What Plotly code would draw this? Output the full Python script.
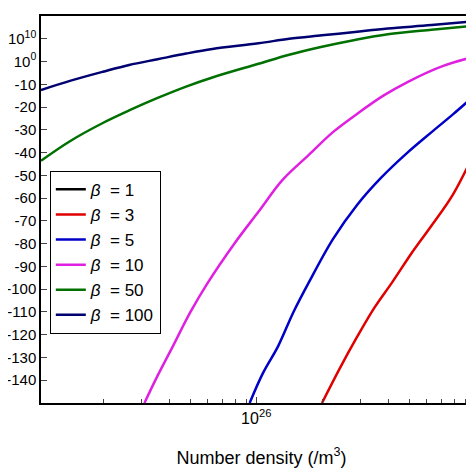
import plotly.graph_objects as go

# log10 of number density, and exponent of y value
b1_x = [26.985, 27.03]
b1_y = [-150, -135]
b3_x = [26.30, 26.38, 26.46, 26.54, 26.62, 26.71, 26.80, 26.90, 27.03]
b3_y = [-150, -135, -121, -108, -97, -84, -72, -58, -33]
b5_x = [25.97, 26.03, 26.10, 26.17, 26.24, 26.35, 26.46, 26.57, 26.69, 26.80, 26.90, 27.03]
b5_y = [-150, -137, -125, -110, -97, -78, -63, -51, -40, -31, -23, -12]
b10_x = [25.49, 25.55, 25.62, 25.70, 25.78, 25.90, 26.01, 26.12, 26.24, 26.35, 26.46, 26.58, 26.69, 26.85, 27.03]
b10_y = [-150, -138, -125, -110, -97, -80, -66, -52, -41, -31, -23, -15, -9, -2, 3]
b50_x = [25.018, 25.15, 25.30, 25.42, 25.55, 25.68, 25.80, 26.01, 26.15, 26.30, 26.45, 26.60, 26.80, 27.03]
b50_y = [-43.6, -35, -27, -21.5, -16, -11, -7, -1, 3, 6.5, 9.5, 12, 14, 16]
b100_x = [25.018, 25.15, 25.30, 25.42, 25.55, 25.68, 25.80, 26.01, 26.15, 26.30, 26.45, 26.60, 26.80, 27.03]
b100_y = [-12.5, -8.5, -4.5, -1.5, 1, 3.5, 5.5, 8, 10, 11.5, 13, 14.5, 16, 18]

series = [("1", b1_x, b1_y, "black"), ("3", b3_x, b3_y, "#e00000"),
          ("5", b5_x, b5_y, "#0000c8"), ("10", b10_x, b10_y, "#e020e0"),
          ("50", b50_x, b50_y, "#007000"), ("100", b100_x, b100_y, "#000070")]

fig = go.Figure()
for lab, xs, ys, col in series:
    fig.add_trace(go.Scatter(x=[10 ** v for v in xs], y=ys, mode="lines",
                             line=dict(color=col, width=2.5, shape="spline", smoothing=1.0),
                             name="<i>β</i>  = " + lab))

yt = list(range(-140, 30, 10))
fig.update_layout(
    width=474, height=474, plot_bgcolor="white", paper_bgcolor="white",
    margin=dict(l=33, r=0, t=8, b=79),
    font=dict(family="Liberation Sans, Arial", color="black", size=13),
    legend=dict(x=0.02, y=0.6, xanchor="left", yanchor="top", bordercolor="black", borderwidth=1,
                font=dict(size=17), bgcolor="white", tracegroupgap=0),
    xaxis=dict(type="log", range=[25.018, 27.03], tickvals=[1e26, 1e27], ticktext=["10<sup>26</sup>", "10<sup>27</sup>"],
               ticks="inside", ticklen=6, showgrid=False, showline=True, linecolor="black", linewidth=1.5, mirror=True,
               minor=dict(ticks="inside", ticklen=4, showgrid=False, dtick="D1"), tickfont=dict(size=16),
               automargin=False,
               title=dict(text="Number density (/m<sup>3</sup>)", font=dict(size=18), standoff=25)),
    yaxis=dict(range=[-150, 20], tickvals=yt, ticktext=["10<sup>%d</sup>" % v if v >= 0 else "%d" % v for v in yt],
               ticks="inside", ticklen=6, showgrid=False, showline=True, linecolor="black", linewidth=1.5, mirror=True,
               zeroline=False, tickfont=dict(size=15), automargin=False),
)
fig.write_html("out.html")
